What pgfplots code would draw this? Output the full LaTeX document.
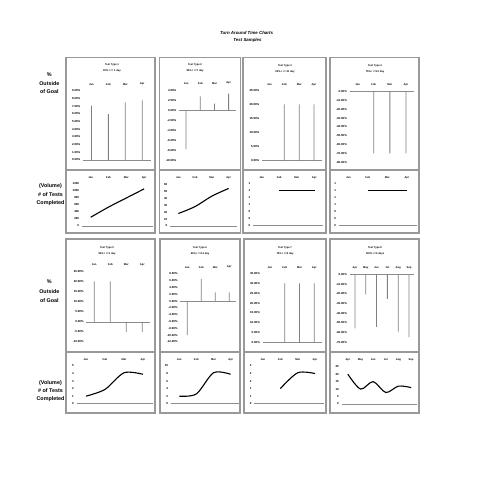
\documentclass[border=0pt]{standalone}
\usepackage{fontspec}
\setmainfont{Liberation Sans}
\usepackage{pgfplots}
\pgfplotsset{compat=1.18}
\newcommand{\tk}{\fontsize{2.9}{3.2}\selectfont\bfseries}
\newcommand{\mo}{\fontsize{2.7}{3}\selectfont\bfseries}
\pgfplotsset{
  base/.style={scale only axis, clip=false, anchor=north west,
    axis line style={draw=none}, tick style={draw=none}, major tick length=0pt,
    xticklabel pos=upper, xtick={0,1,2,3}, xmin=-0.5, xmax=3.5,
    xticklabels={Jan,Feb,Mar,Apr},
    xticklabel style={font=\mo, anchor=center, inner sep=0pt},
    yticklabel style={font=\tk, anchor=east, inner sep=0pt, xshift=-2.5bp},
    /pgf/number format/assume math mode=true,
    /pgf/number format/1000 sep={},
  },
  pct/.style={base, yticklabel={\pgfmathprintnumber[fixed,fixed zerofill,precision=2]{\tick}\%}},
  vol/.style={base, yticklabel={\pgfmathprintnumber[fixed,precision=0]{\tick}}},
  comb/.style={ybar, bar width=0.8bp, fill=black!50, draw=none},
  vline/.style={black, line width=1.1bp, smooth, mark=none},
  pos/.style n args={4}{at={({#1*1bp},{(495-#2)*1bp})}, width=#3bp, height=#4bp},
  lab/.style={xticklabel style={yshift=#1bp}},
}
\newcommand{\zl}[2]{\draw[black!45, line width=0.5bp] (axis cs:#1,0) -- (axis cs:#2,0);}
\newcommand{\bx}[4]{\draw[black!40, line width=1.3bp] ({#1*1bp},{(495-#2)*1bp}) rectangle ({#3*1bp},{(495-#4)*1bp});}
\newcommand{\ttl}[5]{%
  \node[font=\fontsize{2.6}{3}\selectfont\bfseries, inner sep=0pt] at ({#1*1bp},{(495-#2)*1bp}) {#4};
  \node[font=\fontsize{2.6}{3}\selectfont\bfseries, inner sep=0pt] at ({#1*1bp},{(495-#3)*1bp}) {#5};}
\newcommand{\rl}[3]{\node[font=\fontsize{5.4}{6}\selectfont\bfseries, inner sep=0pt, anchor=base] at ({#1*1bp},{(495-#2-2)*1bp}) {#3};}
\begin{document}
\begin{tikzpicture}
\fill[white] (0,0) rectangle (495bp,495bp);
\path[use as bounding box] (0,0) rectangle (495bp,495bp);

% main title
\node[font=\fontsize{4.4}{5}\selectfont\bfseries\itshape, inner sep=0pt] at (246.5bp,{(495-32.7)*1bp}) {Turn Around Time Charts};
\node[font=\fontsize{4.4}{5}\selectfont\bfseries\itshape, inner sep=0pt] at (247.5bp,{(495-40)*1bp}) {Test Samples};

% row labels
\rl{49.3}{74.3}{\%}
\rl{49.3}{83.3}{Outside}
\rl{49.3}{91.7}{of Goal}
\rl{50.5}{185.7}{(Volume)}
\rl{50.5}{194.3}{\# of Tests}
\rl{50.5}{202.7}{Completed}
\rl{49.3}{281.7}{\%}
\rl{49.3}{291.7}{Outside}
\rl{49.3}{300.5}{of Goal}
\rl{50.5}{382.3}{(Volume)}
\rl{50.5}{390.3}{\# of Tests}
\rl{50.5}{398.3}{Completed}

% frames
\bx{66}{57.5}{155}{170}
\bx{159.5}{57.5}{240.5}{170}
\bx{243}{57.5}{326}{170}
\bx{330}{57.5}{419}{170}
\bx{66}{170}{155}{233}
\bx{159.5}{170}{240.5}{233}
\bx{243}{170}{326}{233}
\bx{330}{170}{419}{233}
\bx{66}{239}{155}{352}
\bx{160}{239}{240}{352}
\bx{244}{239}{326}{352}
\bx{330}{239}{419}{352}
\bx{66}{352}{155}{413}
\bx{160}{352}{240}{413}
\bx{244}{352}{326}{413}
\bx{330}{352}{419}{413}

% titles
\ttl{112}{64.5}{71}{Test Type 1}{90\% / <= 1 day}
\ttl{195}{64.5}{71}{Test Type 2}{90\% / <=7 day}
\ttl{285}{65.7}{71.7}{Test Type 3}{90\% / <= 21 day}
\ttl{375}{65.7}{71.7}{Test Type 4}{75\% / <=21 day}
\ttl{107}{247.5}{253.5}{Test Type 5}{90\% / <=1 day}
\ttl{200}{248}{254}{Test Type 6}{90\% / <=14 day}
\ttl{285}{248}{254}{Test Type 7}{75\% / <=5 day}
\ttl{375}{248}{254}{Test Type 8}{100\% <=5 days}

% ---------- Top row: % outside of goal
\begin{axis}[pct, pos={83}{90.7}{67.6}{69.3}, lab=6.4, ymin=0, ymax=9, ytick={0,1,...,9}]
\zl{-0.5}{3.5}
\addplot[comb] coordinates {(0,7.05) (1,5.97) (2,7.49) (3,7.75)};
\end{axis}
\begin{axis}[pct, pos={179}{90.3}{56.7}{70.4}, lab=7, ymin=-10, ymax=4, ytick={-10,-8,...,4}]
\zl{-0.5}{3.5}
\addplot[comb] coordinates {(0,-7.73) (1,2.8) (2,1.33) (3,3.33)};
\end{axis}
\begin{axis}[pct, pos={262}{90.3}{59.5}{70}, lab=5.6, ymin=0, ymax=25, ytick={0,5,...,25}]
\zl{-0.5}{3.5}
\addplot[comb] coordinates {(1,20) (2,20) (3,20)};
\end{axis}
\begin{axis}[pct, pos={349.6}{91.7}{64.4}{70.6}, lab=7, ymin=-80, ymax=0, ytick={-80,-70,...,0}]
\zl{-0.5}{3.5}
\addplot[comb] coordinates {(1,-70) (2,-70) (3,-70)};
\end{axis}

% ---------- Top row: volume
\begin{axis}[vol, pos={81.8}{184}{71.2}{42}, lab=6.3, ymin=0, ymax=1200, ytick={0,200,...,1200}]
\zl{-0.5}{3.5}
\addplot[vline] coordinates {(0,250) (1,540) (2,800) (3,1060)};
\end{axis}
\begin{axis}[vol, pos={170}{184.3}{67}{41.7}, lab=6.6, ymin=0, ymax=60, ytick={0,10,...,60}]
\zl{-0.5}{3.5}
\addplot[vline] coordinates {(0,18) (1,28) (2,43) (3,54)};
\end{axis}
\begin{axis}[vol, pos={253}{184}{70}{41.3}, lab=6.3, ymin=0, ymax=1.2, ytick={0,0.2,0.4,0.6,0.8,1.0,1.2}, yticklabels={0,0,0,1,1,1,1}]
\zl{-0.5}{3.5}
\addplot[vline] coordinates {(1,1) (2,1) (3,1)};
\end{axis}
\begin{axis}[vol, pos={338.6}{184}{78}{41.3}, lab=6.3, ymin=0, ymax=1.2, ytick={0,0.2,0.4,0.6,0.8,1.0,1.2}, yticklabels={0,0,0,1,1,1,1}]
\zl{-0.5}{3.5}
\addplot[vline] coordinates {(1,1) (2,1) (3,1)};
\end{axis}

% ---------- Bottom row: % outside of goal
\begin{axis}[pct, pos={86.3}{271.3}{64}{70.7}, lab=6.6, ymin=-10, ymax=25, ytick={-10,-5,...,25}]
\zl{-0.5}{3.5}
\addplot[comb] coordinates {(0,20) (1,20) (2,-5) (3,-5)};
\end{axis}
\begin{axis}[pct, pos={180.3}{273.7}{56}{68.3}, lab=6.4, ymin=-12, ymax=8, ytick={-12,-10,...,8}]
\zl{-0.5}{3.5}
\addplot[comb] coordinates {(0,-10) (1,6.5) (2,2.5) (3,2.5)};
\end{axis}
\begin{axis}[pct, pos={262.6}{273.7}{59.1}{68.6}, lab=5.7, ymin=0, ymax=35, ytick={0,5,...,35}]
\zl{-0.5}{3.5}
\addplot[comb] coordinates {(1,30) (2,30) (3,30)};
\end{axis}
\begin{axis}[pct, pos={349.6}{274.3}{64.8}{68}, lab=6.3, ymin=-70, ymax=0, ytick={-70,-60,...,0},
  xtick={0,1,2,3,4,5}, xticklabels={Apr,May,Jun,Jul,Aug,Sep}, xmax=5.5]
\zl{-0.5}{5.5}
\addplot[comb] coordinates {(0,-55.6) (1,-20.6) (2,-54) (3,-25.4) (4,-59) (5,-64.6)};
\end{axis}

% ---------- Bottom row: volume
\begin{axis}[vol, pos={76.5}{366}{76}{37.7}, lab=6, ymin=0, ymax=5, ytick={0,1,...,5}]
\zl{-0.5}{3.5}
\addplot[vline] coordinates {(0,1) (1,1.9) (2,4.1) (3,3.9)};
\end{axis}
\begin{axis}[vol, pos={170.7}{366}{68.5}{37.7}, lab=6, ymin=0, ymax=10, ytick={0,2,...,10}]
\zl{-0.5}{3.5}
\addplot[vline] coordinates {(0,2) (1,2.6) (2,8.2) (3,7.8)};
\end{axis}
\begin{axis}[vol, pos={254.3}{366}{69.4}{37.7}, lab=6, ymin=0, ymax=2.5, ytick={0,0.5,1,1.5,2,2.5}, yticklabels={0,1,1,2,2,3}]
\zl{-0.5}{3.5}
\addplot[vline] coordinates {(1,1) (2,2.05) (3,2)};
\end{axis}
\begin{axis}[vol, pos={341.5}{366.7}{76}{37.3}, lab=6.7, ymin=0, ymax=25, ytick={0,5,...,25},
  xtick={0,1,2,3,4,5}, xticklabels={Apr,May,Jun,Jul,Aug,Sep}, xmax=5.5]
\zl{-0.5}{5.5}
\addplot[vline] coordinates {(0,20) (1,10) (2,15) (3,7.7) (4,12) (5,11)};
\end{axis}
\end{tikzpicture}
\end{document}
